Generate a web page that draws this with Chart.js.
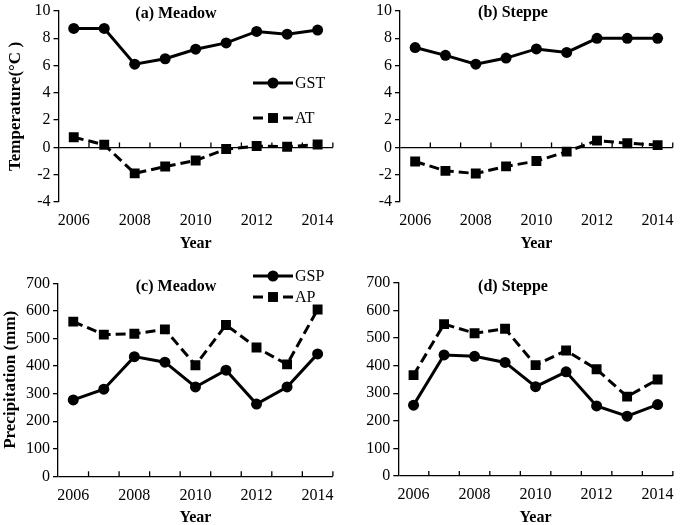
<!DOCTYPE html>
<html>
<head>
<meta charset="utf-8">
<script src="https://cdn.jsdelivr.net/npm/chart.js@4.4.0/dist/chart.umd.min.js"></script>
<style>
  body { margin: 0; background: #fff; }
  #wrap { position: relative; width: 685px; height: 525px; overflow: hidden; }
  .panel { position: absolute; }
</style>
</head>
<body>
<div id="wrap">
  <div class="panel" style="left:0;top:0;width:345px;height:252px"><canvas id="chartA"></canvas></div>
  <div class="panel" style="left:340px;top:0;width:345px;height:252px"><canvas id="chartB"></canvas></div>
  <div class="panel" style="left:0;top:252px;width:345px;height:273px"><canvas id="chartC"></canvas></div>
  <div class="panel" style="left:340px;top:252px;width:345px;height:273px"><canvas id="chartD"></canvas></div>
</div>
<script>
// Data
const years = ['2006', '2007', '2008', '2009', '2010', '2011', '2012', '2013', '2014'];

const meadowGST = [8.72, 8.72, 6.1, 6.5, 7.2, 7.66, 8.5, 8.3, 8.6];
const meadowAT = [0.75, 0.2, -1.9, -1.4, -0.96, -0.12, 0.1, 0.05, 0.22];
const steppeGST = [7.32, 6.75, 6.1, 6.55, 7.22, 6.96, 8.0, 8.0, 8.0];
const steppeAT = [-1.03, -1.72, -1.91, -1.39, -1.0, -0.31, 0.5, 0.31, 0.17];

const meadowGSP = [277, 316, 434, 414, 324, 385, 262, 324, 444];
const meadowAP = [561, 514, 517, 533, 403, 549, 467, 406, 605];
const steppeGSP = [257, 439, 434, 412, 324, 378, 254, 217, 259];
const steppeAP = [366, 551, 518, 534, 402, 455, 387, 288, 350];

const tempRange = [-4, 10, 2];
const precipRange = [0, 700, 100];

const FONT = "'Liberation Serif', 'Times New Roman', serif";
Chart.defaults.font.family = FONT;
Chart.defaults.color = '#000';

// inner x ticks, panel title and in-plot legend
const panelDecor = {
    id: 'panelDecor',
    afterDatasetsDraw(chart, args, opts) {
        const ctx = chart.ctx;
        const xs = chart.scales.x, ys = chart.scales.y;
        const half = (xs.getPixelForValue(1) - xs.getPixelForValue(0)) / 2;
        const y0 = ys.getPixelForValue(0);
        ctx.save();
        ctx.strokeStyle = '#000';
        ctx.lineWidth = 1.3;
        for (let i = 0; i < years.length; i++) {
            const px = xs.getPixelForValue(i) + half;
            ctx.beginPath();
            ctx.moveTo(px, y0);
            ctx.lineTo(px, y0 - 5);
            ctx.stroke();
        }
        ctx.fillStyle = '#000';
        ctx.font = 'bold 16px ' + FONT;
        ctx.textAlign = 'center';
        ctx.textBaseline = 'middle';
        ctx.fillText(opts.title, opts.titleX, opts.titleY);

        if (opts.legend) {
            const lg = opts.legend;
            chart.data.datasets.forEach(function(ds, i) {
                const ry = lg.y + i * lg.gap;
                ctx.lineWidth = ds.borderWidth;
                ctx.setLineDash(ds.borderDash || []);
                ctx.beginPath();
                ctx.moveTo(lg.x, ry);
                ctx.lineTo(lg.x + 40, ry);
                ctx.stroke();
                ctx.setLineDash([]);
                const cx = lg.x + 20;
                if (ds.pointStyle === 'rect') {
                    const s = ds.pointRadius * Math.SQRT1_2;
                    ctx.fillRect(cx - s, ry - s, 2 * s, 2 * s);
                } else {
                    ctx.beginPath();
                    ctx.arc(cx, ry, ds.pointRadius, 0, Math.PI * 2);
                    ctx.fill();
                }
                ctx.font = '16px ' + FONT;
                ctx.textAlign = 'left';
                ctx.fillText(ds.label, lg.x + 42, ry + 1);
            });
        }
        ctx.restore();
    }
};

function solid(label, data) {
    return {
        label: label, data: data,
        borderColor: '#000', backgroundColor: '#000', borderWidth: 3,
        pointStyle: 'circle', pointRadius: 5.5, pointBorderWidth: 0,
        pointBackgroundColor: '#000', tension: 0
    };
}

function dashed(label, data) {
    return {
        label: label, data: data,
        borderColor: '#000', backgroundColor: '#000', borderWidth: 3,
        borderDash: [10, 5],
        pointStyle: 'rect', pointRadius: 7, pointBorderWidth: 0,
        pointBackgroundColor: '#000', tension: 0
    };
}

function makePanel(id, cfg) {
    const ctx = document.getElementById(id).getContext('2d');
    return new Chart(ctx, {
        type: 'line',
        data: {
            labels: years,
            datasets: [solid(cfg.names[0], cfg.series[0]), dashed(cfg.names[1], cfg.series[1])]
        },
        options: {
            responsive: true,
            maintainAspectRatio: false,
            animation: false,
            events: [],
            layout: { padding: { top: cfg.top, right: 2, left: 0, bottom: 0 } },
            plugins: {
                legend: { display: false },
                tooltip: { enabled: false },
                panelDecor: { title: cfg.title, titleX: cfg.titleX, titleY: cfg.titleY, legend: cfg.legend }
            },
            scales: {
                x: {
                    type: 'category',
                    offset: true,
                    grid: { display: false, drawTicks: false, offset: true },
                    border: { display: false },
                    ticks: {
                        autoSkip: false, maxRotation: 0, padding: cfg.xPad,
                        font: { size: 16, lineHeight: 1 },
                        callback: function(v, i) { return i % 2 === 0 ? years[i] : ''; }
                    },
                    title: { display: true, text: 'Year', padding: cfg.yearPad, font: { size: 16, weight: 'bold' } },
                    afterFit: function(s) { s.height = cfg.xHeight; }
                },
                y: {
                    min: cfg.range[0], max: cfg.range[1],
                    ticks: { stepSize: cfg.range[2], padding: 3, font: { size: 16, lineHeight: 1 } },
                    grid: {
                        color: function(c) { return c.tick && c.tick.value === 0 ? '#000' : 'rgba(0,0,0,0)'; },
                        tickColor: '#000', tickLength: 5, lineWidth: 1.3
                    },
                    border: { display: true, color: '#000', width: 1.3 },
                    title: {
                        display: !!cfg.yTitle, text: cfg.yTitle || '', padding: cfg.yTitlePad || 0,
                        font: { size: 17, weight: 'bold' }
                    },
                    afterFit: function(s) { s.width = cfg.yWidth; }
                }
            }
        },
        plugins: [panelDecor]
    });
}

makePanel('chartA', {
    names: ['GST', 'AT'], series: [meadowGST, meadowAT], range: tempRange,
    title: '(a) Meadow', titleX: 176, titleY: 14,
    legend: { x: 253, y: 83, gap: 35 },
    top: 8, yWidth: 58.5, xHeight: 50, xPad: 11, yearPad: -1,
    yTitle: 'Temperature(\u00B0C )', yTitlePad: 5
});

makePanel('chartB', {
    names: ['GST', 'AT'], series: [steppeGST, steppeAT], range: tempRange,
    title: '(b) Steppe', titleX: 173, titleY: 13,
    legend: null,
    top: 7, yWidth: 60, xHeight: 50, xPad: 11, yearPad: -1
});

makePanel('chartC', {
    names: ['GSP', 'AP'], series: [meadowGSP, meadowAP], range: precipRange,
    title: '(c) Meadow', titleX: 176, titleY: 35,
    legend: { x: 253, y: 24, gap: 21 },
    top: 31.3, yWidth: 58, xHeight: 48.7, xPad: 11, yearPad: -2.6,
    yTitle: 'Precipitation (mm)', yTitlePad: 0
});

makePanel('chartD', {
    names: ['GSP', 'AP'], series: [steppeGSP, steppeAP], range: precipRange,
    title: '(d) Steppe', titleX: 173, titleY: 35,
    legend: null,
    top: 31, yWidth: 58.3, xHeight: 49, xPad: 11, yearPad: -2.6
});
</script>
</body>
</html>
